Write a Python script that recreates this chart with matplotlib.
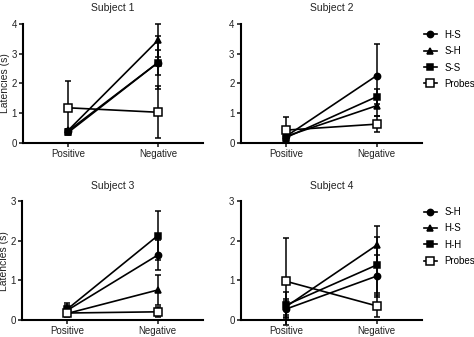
import matplotlib.pyplot as plt
from matplotlib.lines import Line2D

plt.rcParams["font.family"] = ["Liberation Sans", "DejaVu Sans"]

CONDITIONS = ["Positive", "Negative"]

# subject 1 / 2 series
SERIES_A = ["H-S", "S-H", "S-S", "Probes"]
# subject 3 / 4 series
SERIES_B = ["S-H", "H-S", "H-H", "Probes"]

# means per series: [Positive, Negative]
S1_MEAN = [[0.40, 2.70], [0.42, 3.45], [0.35, 2.70], [1.18, 1.03]]
S1_ERR = [[0.08, 0.90], [0.05, 0.55], [0.05, 0.42], [0.90, 0.88]]

S2_MEAN = [[0.22, 2.26], [0.22, 1.25], [0.18, 1.55], [0.43, 0.63]]
S2_ERR = [[0.20, 1.08], [0.15, 0.35], [0.10, 0.25], [0.44, 0.27]]

S3_MEAN = [[0.25, 1.64], [0.17, 0.76], [0.28, 2.13], [0.18, 0.21]]
S3_ERR = [[0.12, 0.38], [0.10, 0.37], [0.16, 0.62], [0.05, 0.13]]

S4_MEAN = [[0.28, 1.11], [0.34, 1.89], [0.38, 1.39], [0.98, 0.36]]
S4_ERR = [[0.20, 0.53], [0.20, 0.48], [0.33, 0.70], [1.09, 0.28]]

MARKERS = ["o", "^", "s", "s"]
FACES = ["black", "black", "black", "white"]
SIZES = [4.5, 4.5, 4.5, 6]


def draw_subject(ax, title, means, errs, labels, ymax, legend):
    x = [0, 1]
    handles = []
    for i, label in enumerate(labels):
        style = dict(
            color="black", marker=MARKERS[i], markersize=SIZES[i],
            markerfacecolor=FACES[i], markeredgecolor="black", markeredgewidth=1.1,
            linewidth=1.2,
        )
        ax.errorbar(
            x, means[i], yerr=errs[i], elinewidth=1.1, capsize=2.5, capthick=1.1,
            clip_on=False, zorder=3 if i < 3 else 4, **style,
        )
        handles.append(Line2D([], [], label=label, **style))
    ax.set_xlim(-0.5, 1.5)
    ax.set_ylim(0, ymax)
    ax.set_yticks(range(0, ymax + 1))
    ax.set_xticks(x)
    ax.set_xticklabels(CONDITIONS)
    ax.spines["top"].set_visible(False)
    ax.spines["right"].set_visible(False)
    for side in ["left", "bottom"]:
        ax.spines[side].set_linewidth(1.5)
    ax.tick_params(width=1.2, length=3, labelsize=7, pad=1.5, colors="#222222")
    ax.set_title(title, fontsize=7.5, pad=9, color="#222222")
    if legend:
        ax.legend(
            handles=handles, loc="upper left", bbox_to_anchor=(1.01, 0.95),
            frameon=False, fontsize=7, handlelength=1.4, labelspacing=0.65,
            handletextpad=0.7, borderaxespad=0, borderpad=0,
        )


fig = plt.figure(figsize=(4.74, 3.37), dpi=100)
ax1 = fig.add_axes([0.049, 0.576, 0.379, 0.353])
ax2 = fig.add_axes([0.508, 0.576, 0.382, 0.353])
ax3 = fig.add_axes([0.047, 0.050, 0.381, 0.353])
ax4 = fig.add_axes([0.508, 0.050, 0.382, 0.353])

draw_subject(ax1, "Subject 1", S1_MEAN, S1_ERR, SERIES_A, 4, False)
draw_subject(ax2, "Subject 2", S2_MEAN, S2_ERR, SERIES_A, 4, True)
draw_subject(ax3, "Subject 3", S3_MEAN, S3_ERR, SERIES_B, 3, False)
draw_subject(ax4, "Subject 4", S4_MEAN, S4_ERR, SERIES_B, 3, True)

for ax in (ax1, ax3):
    ax.set_ylabel("Latencies (s)", fontsize=7.5, labelpad=1, color="#222222")

fig.savefig("out.png", dpi=100)
